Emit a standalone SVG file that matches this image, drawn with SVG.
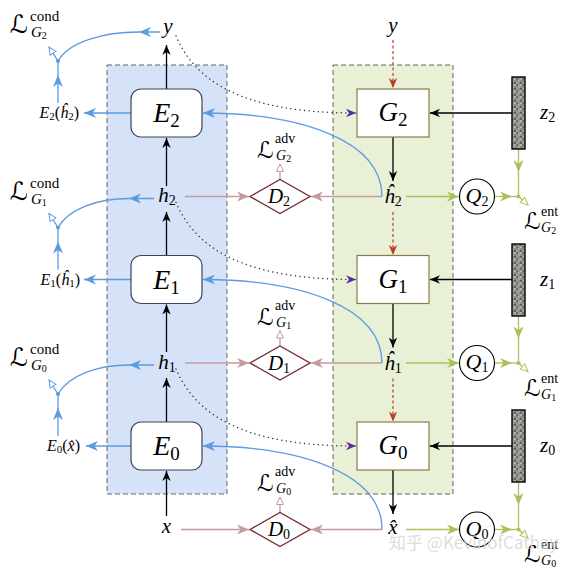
<svg xmlns="http://www.w3.org/2000/svg" width="570" height="568" viewBox="0 0 570 568">
<style>
.m{font-family:"Liberation Serif","DejaVu Serif",serif;font-style:italic;fill:#000}
.n{font-style:normal}
.L{font-family:"DejaVu Serif","DejaVu Sans",serif;font-style:normal}
.ebox{fill:#fff;stroke:#3d4655;stroke-width:1.2}
.gbox{fill:#fff;stroke:#8a7a4c;stroke-width:1.2}
.dia{fill:#fff;stroke:#7a2a3a;stroke-width:1.4}
.q{fill:#fff;stroke:#000;stroke-width:1.1}
.zbar{fill:url(#noise);stroke:#000;stroke-width:1.4}
.blk{fill:none;stroke:#000;stroke-width:1.3;marker-end:url(#ak)}
.blu{fill:none;stroke:#5b9be0;stroke-width:1.3}
.grn{fill:none;stroke:#a8c25a;stroke-width:1.3}
.pnk{fill:none;stroke:#c49c9c;stroke-width:1.3}
.red{fill:none;stroke:#c0392b;stroke-width:1.2;stroke-dasharray:3 2.5;marker-end:url(#ar)}
.dot{fill:none;stroke:#333;stroke-width:1.4;stroke-dasharray:0.1 4.5;stroke-linecap:round;marker-end:url(#ap)}
</style>
<defs>
<pattern id="noise" width="6" height="6" patternUnits="userSpaceOnUse">
<rect width="6" height="6" fill="#8c8c84"/>
<rect x="0" y="0" width="2" height="2" fill="#6e6e68"/>
<rect x="2" y="2" width="2" height="2" fill="#a8a89e"/>
<rect x="4" y="0" width="2" height="2" fill="#b4b4aa"/>
<rect x="0" y="4" width="2" height="2" fill="#a0a098"/>
<rect x="4" y="4" width="2" height="2" fill="#606058"/>
<rect x="2" y="0" width="2" height="2" fill="#9a9a90"/>
</pattern>
<marker id="ak" markerWidth="12" markerHeight="10" refX="10" refY="5" orient="auto" markerUnits="userSpaceOnUse"><path d="M0,0.8 L10,5 L0,9.2 L3,5 z" fill="#000"/></marker>
<marker id="ab" markerWidth="14" markerHeight="12" refX="12" refY="6" orient="auto" markerUnits="userSpaceOnUse"><path d="M0,1 L12,6 L0,11 L3.5,6 z" fill="#5b9be0"/></marker>
<marker id="ag" markerWidth="14" markerHeight="12" refX="12" refY="6" orient="auto" markerUnits="userSpaceOnUse"><path d="M0,1 L12,6 L0,11 L3.5,6 z" fill="#a8c25a"/></marker>
<marker id="apk" markerWidth="14" markerHeight="12" refX="12" refY="6" orient="auto" markerUnits="userSpaceOnUse"><path d="M0,1 L12,6 L0,11 L3.5,6 z" fill="#c49c9c"/></marker>
<marker id="ar" markerWidth="12" markerHeight="10" refX="10" refY="5" orient="auto" markerUnits="userSpaceOnUse"><path d="M0,0.8 L10,5 L0,9.2 L3,5 z" fill="#c0392b"/></marker>
<marker id="ap" markerWidth="12" markerHeight="10" refX="10" refY="5" orient="auto" markerUnits="userSpaceOnUse"><path d="M0,0.8 L10,5 L0,9.2 L3,5 z" fill="#5a2d9c"/></marker>
<marker id="ob" markerWidth="10" markerHeight="10" refX="8" refY="5" orient="auto" markerUnits="userSpaceOnUse"><path d="M0.5,1.5 L8,5 L0.5,8.5 z" fill="#fff" stroke="#5b9be0" stroke-width="1"/></marker>
<marker id="og" markerWidth="10" markerHeight="10" refX="8" refY="5" orient="auto" markerUnits="userSpaceOnUse"><path d="M0.5,1.5 L8,5 L0.5,8.5 z" fill="#fff" stroke="#a8c25a" stroke-width="1"/></marker>
<marker id="opk" markerWidth="10" markerHeight="10" refX="8" refY="5" orient="auto" markerUnits="userSpaceOnUse"><path d="M0.5,1.5 L8,5 L0.5,8.5 z" fill="#fff" stroke="#c49c9c" stroke-width="1"/></marker>
</defs>
<rect width="570" height="568" fill="#fff"/>
<g id="encoder-panel"><rect x="107" y="65" width="120" height="429" fill="#d5e2f7" stroke="#666" stroke-width="1" stroke-dasharray="5 3"/></g>
<g id="generator-panel"><rect x="333" y="65" width="120" height="429" fill="#e8f0d6" stroke="#666" stroke-width="1" stroke-dasharray="5 3"/></g>

<g id="connectors">
<path class="blk" d="M166.5,89 L166.5,45"/>
<path class="blk" d="M166.5,186 L166.5,138"/>
<path class="blk" d="M166.5,256 L166.5,212"/>
<path class="blk" d="M166.5,352 L166.5,304.5"/>
<path class="blk" d="M166.5,422 L166.5,378"/>
<path class="blk" d="M166.5,516 L166.5,471"/>
<path class="blk" d="M393,137 L393,181"/>
<path class="blk" d="M393,303.5 L393,347.5"/>
<path class="blk" d="M393,470 L393,514"/>
<path class="blk" d="M512,113 L430,113"/>
<path class="blk" d="M512,279.5 L430,279.5"/>
<path class="blk" d="M512,446 L430,446"/>
<path class="red" d="M393,40 L393,88"/>
<path class="red" d="M393,212 L393,255"/>
<path class="red" d="M393,378.5 L393,421.5"/>
<path class="dot" d="M176,36 C195,80 240,113 356,113"/>
<path class="dot" d="M176,202.5 C195,246.5 240,279.5 356,279.5"/>
<path class="dot" d="M176,369 C195,413 240,446 356,446"/>
<path class="pnk" marker-end="url(#apk)" d="M185,196.5 L249,196.5"/>
<path class="pnk" marker-end="url(#apk)" d="M382,196.5 L311,196.5"/>
<path class="pnk" marker-end="url(#opk)" d="M280,179.5 L280,164"/>
<path class="pnk" marker-end="url(#apk)" d="M185,363 L249,363"/>
<path class="pnk" marker-end="url(#apk)" d="M382,363 L311,363"/>
<path class="pnk" marker-end="url(#opk)" d="M280,346 L280,330.5"/>
<path class="pnk" marker-end="url(#apk)" d="M181,529.5 L249,529.5"/>
<path class="pnk" marker-end="url(#apk)" d="M382,529.5 L311,529.5"/>
<path class="pnk" marker-end="url(#opk)" d="M280,512.5 L280,497"/>
<path class="blu" marker-end="url(#ab)" d="M382,196.5 C382,140 300,113 203,113"/>
<path class="blu" marker-end="url(#ab)" d="M382,363 C382,306.5 300,279.5 203,279.5"/>
<path class="blu" marker-end="url(#ab)" d="M382,529.5 C382,473 300,446 203,446"/>
<path class="blu" marker-end="url(#ab)" d="M131,113 L84,113"/>
<path class="blu" marker-end="url(#ab)" d="M131,279.5 L84,279.5"/>
<path class="blu" marker-end="url(#ab)" d="M131,446 L86,446"/>
<path class="blu" marker-mid="url(#ab)" d="M58,103 L58,75 L58,61"/>
<path class="blu" marker-mid="url(#ab)" d="M58,269.5 L58,241.5 L58,227.5"/>
<path class="blu" marker-mid="url(#ab)" d="M58,436 L58,408 L58,394"/>
<path class="blu" marker-mid="url(#ab)" d="M160,32 L139,32 C103,32 69,42 58,61"/>
<path class="blu" marker-mid="url(#ab)" d="M154,198.5 L129,198.5 C98,198.5 69,208.5 58,227.5"/>
<path class="blu" marker-mid="url(#ab)" d="M154,365 L129,365 C98,365 69,375 58,394"/>
<path class="blu" marker-end="url(#ob)" d="M58,61 L49,47"/>
<path class="blu" marker-end="url(#ob)" d="M58,227.5 L49,213.5"/>
<path class="blu" marker-end="url(#ob)" d="M58,394 L49,380"/>
<circle cx="58" cy="61" r="2" fill="#5b9be0"/>
<circle cx="58" cy="227.5" r="2" fill="#5b9be0"/>
<circle cx="58" cy="394" r="2" fill="#5b9be0"/>
<path class="grn" marker-end="url(#ag)" d="M406,196.5 L459,196.5"/>
<path class="grn" marker-end="url(#ag)" d="M406,363 L459,363"/>
<path class="grn" marker-end="url(#ag)" d="M406,529.5 L459,529.5"/>
<path class="grn" marker-mid="url(#ag)" d="M495,196.5 L512,196.5 L518.5,196.5"/>
<path class="grn" marker-mid="url(#ag)" d="M495,363 L512,363 L518.5,363"/>
<path class="grn" marker-mid="url(#ag)" d="M495,529.5 L512,529.5 L518.5,529.5"/>
<path class="grn" marker-mid="url(#ag)" d="M518.5,149 L518.5,172 L518.5,196.5"/>
<path class="grn" marker-mid="url(#ag)" d="M518.5,316 L518.5,338.5 L518.5,363"/>
<path class="grn" marker-mid="url(#ag)" d="M518.5,482 L518.5,505 L518.5,529.5"/>
<path class="grn" marker-end="url(#og)" d="M518.5,196.5 L528,205"/>
<path class="grn" marker-end="url(#og)" d="M518.5,363 L528,371.5"/>
<path class="grn" marker-end="url(#og)" d="M518.5,529.5 L528,538"/>
<circle cx="518.5" cy="196.5" r="2" fill="#a8c25a"/>
<circle cx="518.5" cy="363" r="2" fill="#a8c25a"/>
<circle cx="518.5" cy="529.5" r="2" fill="#a8c25a"/>
</g>

<g id="E2"><rect class="ebox" x="131" y="89" width="71" height="48" rx="10"/><text class="m" x="166.5" y="122" text-anchor="middle" font-size="28">E<tspan class="n" font-size="19" dy="5">2</tspan></text></g>
<g id="E1"><rect class="ebox" x="131" y="255.5" width="71" height="48" rx="10"/><text class="m" x="166.5" y="288.5" text-anchor="middle" font-size="28">E<tspan class="n" font-size="19" dy="5">1</tspan></text></g>
<g id="E0"><rect class="ebox" x="131" y="422" width="71" height="48" rx="10"/><text class="m" x="166.5" y="455" text-anchor="middle" font-size="28">E<tspan class="n" font-size="19" dy="5">0</tspan></text></g>

<g id="G2"><rect class="gbox" x="357" y="89" width="72" height="48"/><text class="m" x="393" y="121" text-anchor="middle" font-size="27">G<tspan class="n" font-size="19" dy="5">2</tspan></text></g>
<g id="G1"><rect class="gbox" x="357" y="255.5" width="72" height="48"/><text class="m" x="393" y="287.5" text-anchor="middle" font-size="27">G<tspan class="n" font-size="19" dy="5">1</tspan></text></g>
<g id="G0"><rect class="gbox" x="357" y="422" width="72" height="48"/><text class="m" x="393" y="454" text-anchor="middle" font-size="27">G<tspan class="n" font-size="19" dy="5">0</tspan></text></g>

<g id="D2"><polygon class="dia" points="250,196.5 280,179.5 310,196.5 280,213.5"/><text class="m" x="279" y="203" text-anchor="middle" font-size="21">D<tspan class="n" font-size="14" dy="3">2</tspan></text></g>
<g id="D1"><polygon class="dia" points="250,363 280,346 310,363 280,380"/><text class="m" x="279" y="369.5" text-anchor="middle" font-size="21">D<tspan class="n" font-size="14" dy="3">1</tspan></text></g>
<g id="D0"><polygon class="dia" points="250,529.5 280,512.5 310,529.5 280,546.5"/><text class="m" x="279" y="536" text-anchor="middle" font-size="21">D<tspan class="n" font-size="14" dy="3">0</tspan></text></g>

<g id="Q2"><circle class="q" cx="477" cy="196.5" r="17.5"/><text class="m" x="477" y="202.5" text-anchor="middle" font-size="22">Q<tspan class="n" font-size="14" dy="3">2</tspan></text></g>
<g id="Q1"><circle class="q" cx="477" cy="363" r="17.5"/><text class="m" x="477" y="369" text-anchor="middle" font-size="22">Q<tspan class="n" font-size="14" dy="3">1</tspan></text></g>
<g id="Q0"><circle class="q" cx="477" cy="529.5" r="17.5"/><text class="m" x="477" y="535.5" text-anchor="middle" font-size="22">Q<tspan class="n" font-size="14" dy="3">0</tspan></text></g>

<g id="z2"><rect class="zbar" x="512" y="77" width="13" height="72"/><text class="m" x="540" y="119" font-size="21">z<tspan class="n" font-size="14" dy="3">2</tspan></text></g>
<g id="z1"><rect class="zbar" x="512" y="244" width="13" height="72"/><text class="m" x="540" y="285.5" font-size="21">z<tspan class="n" font-size="14" dy="3">1</tspan></text></g>
<g id="z0"><rect class="zbar" x="512" y="410" width="13" height="72"/><text class="m" x="540" y="452" font-size="21">z<tspan class="n" font-size="14" dy="3">0</tspan></text></g>

<g id="y-enc"><text class="m" x="168" y="33" text-anchor="middle" font-size="21">y</text></g>
<g id="h2"><text class="m" x="167" y="202" text-anchor="middle" font-size="21">h<tspan class="n" font-size="14" dy="3">2</tspan></text></g>
<g id="h1"><text class="m" x="167" y="368.5" text-anchor="middle" font-size="21">h<tspan class="n" font-size="14" dy="3">1</tspan></text></g>
<g id="x"><text class="m" x="166.5" y="533" text-anchor="middle" font-size="21">x</text></g>

<g id="y-gen"><text class="m" x="393" y="32" text-anchor="middle" font-size="21">y</text></g>
<g id="h2hat"><text class="m" x="393" y="203" text-anchor="middle" font-size="21">ĥ<tspan class="n" font-size="14" dy="3">2</tspan></text></g>
<g id="h1hat"><text class="m" x="393" y="369.5" text-anchor="middle" font-size="21">ĥ<tspan class="n" font-size="14" dy="3">1</tspan></text></g>
<g id="xhat"><text class="m" x="393" y="534" text-anchor="middle" font-size="21">x̂</text></g>

<g id="E2out"><text class="m" x="79" y="118" text-anchor="end" font-size="16">E<tspan class="n" font-size="11" dy="2">2</tspan><tspan class="n" dy="-2">(</tspan>ĥ<tspan class="n" font-size="11" dy="2">2</tspan><tspan class="n" dy="-2">)</tspan></text></g>
<g id="E1out"><text class="m" x="80" y="284.5" text-anchor="end" font-size="16">E<tspan class="n" font-size="11" dy="2">1</tspan><tspan class="n" dy="-2">(</tspan>ĥ<tspan class="n" font-size="11" dy="2">1</tspan><tspan class="n" dy="-2">)</tspan></text></g>
<g id="E0out"><text class="m" x="80" y="451" text-anchor="end" font-size="16">E<tspan class="n" font-size="11" dy="2">0</tspan><tspan class="n" dy="-2">(</tspan>x̂<tspan class="n">)</tspan></text></g>

<g id="Lcond2"><text class="m" font-size="15"><tspan class="L" x="10" y="33" font-size="25">ℒ</tspan><tspan class="n" x="30" y="21">cond</tspan><tspan x="31" y="37">G</tspan><tspan class="n" font-size="10" dy="2">2</tspan></text></g>
<g id="Lcond1"><text class="m" font-size="15"><tspan class="L" x="10" y="199.5" font-size="25">ℒ</tspan><tspan class="n" x="30" y="187.5">cond</tspan><tspan x="31" y="203.5">G</tspan><tspan class="n" font-size="10" dy="2">1</tspan></text></g>
<g id="Lcond0"><text class="m" font-size="15"><tspan class="L" x="10" y="366" font-size="25">ℒ</tspan><tspan class="n" x="30" y="354">cond</tspan><tspan x="31" y="370">G</tspan><tspan class="n" font-size="10" dy="2">0</tspan></text></g>

<g id="Ladv2"><text class="m" font-size="14"><tspan class="L" x="257" y="158" font-size="23">ℒ</tspan><tspan class="n" x="275" y="143">adv</tspan><tspan x="276" y="160">G</tspan><tspan class="n" font-size="10" dy="2">2</tspan></text></g>
<g id="Ladv1"><text class="m" font-size="14"><tspan class="L" x="257" y="324.5" font-size="23">ℒ</tspan><tspan class="n" x="275" y="309.5">adv</tspan><tspan x="276" y="326.5">G</tspan><tspan class="n" font-size="10" dy="2">1</tspan></text></g>
<g id="Ladv0"><text class="m" font-size="14"><tspan class="L" x="257" y="491" font-size="23">ℒ</tspan><tspan class="n" x="275" y="476">adv</tspan><tspan x="276" y="493">G</tspan><tspan class="n" font-size="10" dy="2">0</tspan></text></g>

<g id="Lent2"><text class="m" font-size="14"><tspan class="L" x="524" y="229" font-size="23">ℒ</tspan><tspan class="n" x="541" y="216">ent</tspan><tspan x="541" y="232">G</tspan><tspan class="n" font-size="10" dy="2">2</tspan></text></g>
<g id="Lent1"><text class="m" font-size="14"><tspan class="L" x="524" y="395.5" font-size="23">ℒ</tspan><tspan class="n" x="541" y="382.5">ent</tspan><tspan x="541" y="398.5">G</tspan><tspan class="n" font-size="10" dy="2">1</tspan></text></g>
<g id="Lent0"><text class="m" font-size="14"><tspan class="L" x="524" y="562" font-size="23">ℒ</tspan><tspan class="n" x="541" y="549">ent</tspan><tspan x="541" y="565">G</tspan><tspan class="n" font-size="10" dy="2">0</tspan></text></g>

<g id="watermark"><text x="389" y="549" font-family="'Noto Sans CJK SC','Liberation Sans',sans-serif" font-size="17" fill="#d4d4d4" fill-opacity="0.8">知乎 @KevinofCathay</text></g>
</svg>
